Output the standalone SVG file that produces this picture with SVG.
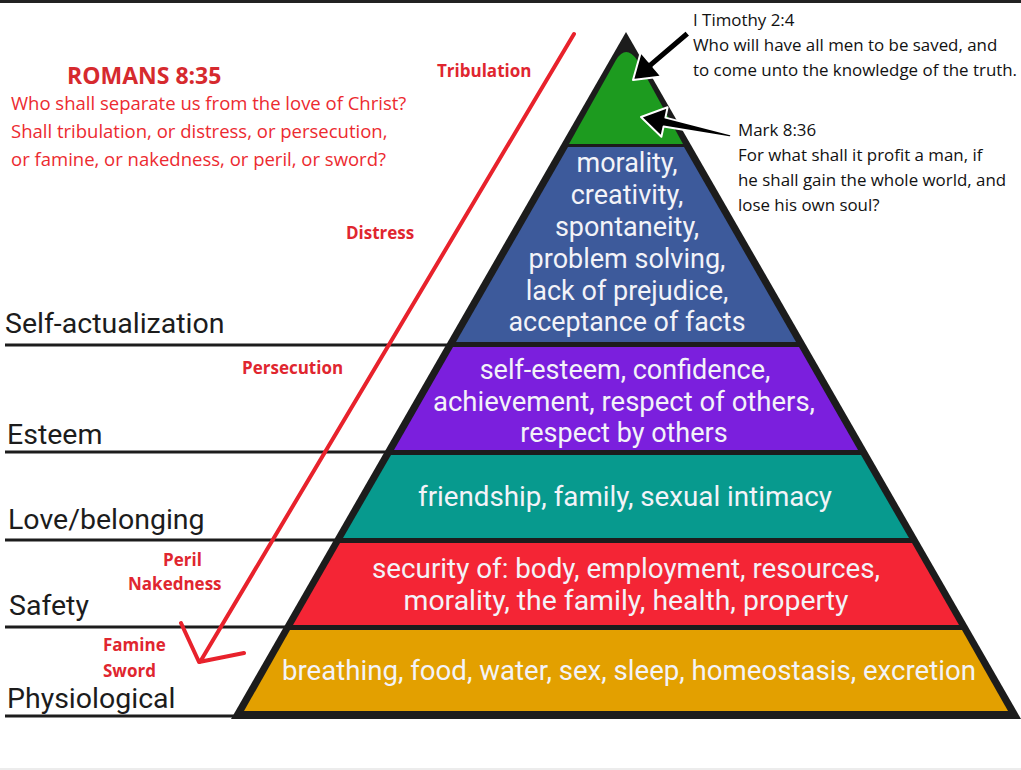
<svg xmlns="http://www.w3.org/2000/svg" width="1021" height="770" viewBox="0 0 1021 770">
<defs>
<style>
.band{font-family:Roboto,"Liberation Sans",sans-serif;font-size:27px;fill:#f3f3f8;text-anchor:middle}
.lvl{font-family:Roboto,"Liberation Sans",sans-serif;font-size:28.5px;fill:#1c1c1c}
.rl{font-family:"Open Sans","Liberation Sans",sans-serif;font-size:17px;font-weight:bold;fill:#e0262f}
.rom{font-family:"Open Sans","Liberation Sans",sans-serif;font-size:18.5px;fill:#ec2a30}
.verse{font-family:"Open Sans","Liberation Sans",sans-serif;font-size:16.9px;fill:#111}
.hl{stroke:#1c1c1c;stroke-width:3}
.barrow{fill:#000;stroke:#fff;stroke-width:2;stroke-linejoin:round}
</style>
</defs>
<rect x="0" y="0" width="1021" height="770" fill="#fff"/>
<rect x="0" y="0" width="1021" height="3" fill="#222"/>
<rect x="0" y="768" width="1021" height="2" fill="#ececec"/>

<g id="guide-lines">
<line class="hl" x1="5" y1="345" x2="452" y2="345"/>
<line class="hl" x1="5" y1="452" x2="392" y2="452"/>
<line class="hl" x1="5" y1="540" x2="340" y2="540"/>
<line class="hl" x1="5" y1="627" x2="290" y2="627"/>
<line class="hl" x1="5" y1="716" x2="240" y2="716"/>
</g>

<g id="pyramid-outline">
<polygon points="626,32 231,719 1021,719" fill="#1c1c1c"/>
</g>

<g id="tier-spiritual">
<path d="M569,144 L616,60 Q626,44 637,60 L683,144 Z" fill="#1d9b1f"/>
</g>

<g id="tier-self-actualization">
<polygon points="568,147 684,147 796,342 456,342" fill="#3d5a9b"/>
<text class="band" x="627" y="172">morality,</text>
<text class="band" x="627" y="204">creativity,</text>
<text class="band" x="627" y="236">spontaneity,</text>
<text class="band" x="627" y="268">problem solving,</text>
<text class="band" x="627" y="300">lack of prejudice,</text>
<text class="band" x="627" y="331" textLength="237" lengthAdjust="spacingAndGlyphs">acceptance of facts</text>
</g>

<g id="tier-esteem">
<polygon points="453,347 799,347 858,450 394,450" fill="#7b1fdd"/>
<text class="band" x="625" y="379">self-esteem, confidence,</text>
<text class="band" x="624" y="411" textLength="382" lengthAdjust="spacingAndGlyphs">achievement, respect of others,</text>
<text class="band" x="624" y="442">respect by others</text>
</g>

<g id="tier-love">
<polygon points="391,455 861,455 909,538 343,538" fill="#079a8e"/>
<text class="band" x="625" y="506" textLength="414" lengthAdjust="spacingAndGlyphs">friendship, family, sexual intimacy</text>
</g>

<g id="tier-safety">
<polygon points="340,543 912,543 959,625 293,625" fill="#f42535"/>
<text class="band" x="626" y="578" textLength="508" lengthAdjust="spacingAndGlyphs">security of: body, employment, resources,</text>
<text class="band" x="626" y="610" textLength="445" lengthAdjust="spacingAndGlyphs">morality, the family, health, property</text>
</g>

<g id="tier-physiological">
<polygon points="290,630 962,630 1008,711 244,711" fill="#e3a000"/>
<text class="band" x="629" y="680" textLength="694" lengthAdjust="spacingAndGlyphs">breathing, food, water, sex, sleep, homeostasis, excretion</text>
</g>

<g id="level-labels">
<text class="lvl" x="5" y="333">Self-actualization</text>
<text class="lvl" x="7" y="444">Esteem</text>
<text class="lvl" x="8" y="529">Love/belonging</text>
<text class="lvl" x="9" y="615">Safety</text>
<text class="lvl" x="7" y="708">Physiological</text>
</g>

<g id="romans">
<text x="67" y="84" font-family="'Open Sans','Liberation Sans',sans-serif" font-size="23" font-weight="bold" fill="#d62a2e">ROMANS 8:35</text>
<text class="rom" x="11" y="110">Who shall separate us from the love of Christ?</text>
<text class="rom" x="11" y="138">Shall tribulation, or distress, or persecution,</text>
<text class="rom" x="11" y="166">or famine, or nakedness, or peril, or sword?</text>
</g>

<g id="trial-labels">
<text class="rl" x="437" y="77">Tribulation</text>
<text class="rl" x="346" y="239">Distress</text>
<text class="rl" x="242" y="374">Persecution</text>
<text class="rl" x="163" y="566">Peril</text>
<text class="rl" x="128" y="590">Nakedness</text>
<text class="rl" x="103" y="651">Famine</text>
<text class="rl" x="103" y="677">Sword</text>
</g>

<g id="timothy">
<text class="verse" x="693" y="26">I Timothy 2:4</text>
<text class="verse" x="693" y="51">Who will have all men to be saved, and</text>
<text class="verse" x="693" y="76">to come unto the knowledge of the truth.</text>
</g>

<g id="mark">
<text class="verse" x="738" y="136">Mark 8:36</text>
<text class="verse" x="738" y="161">For what shall it profit a man, if</text>
<text class="verse" x="738" y="186">he shall gain the whole world, and</text>
<text class="verse" x="738" y="211">lose his own soul?</text>
</g>

<g id="connectors">
<path d="M574,34 L200,662 M181,623 L199,662 L244,653" fill="none" stroke="#e8222c" stroke-width="4" stroke-linecap="round" stroke-linejoin="round"/>
<path class="barrow" d="M685.7,30.3 L648.9,61.7 L640.8,52.2 L633,80 L661.6,76.6 L653.5,67.1 L690.3,35.7 Z"/>
<path class="barrow" d="M731.3,134.5 L665.4,117.6 L667.6,107.3 L641,117 L661.4,136.7 L663.6,126.4 L730.7,137.5 Z"/>
</g>
</svg>
